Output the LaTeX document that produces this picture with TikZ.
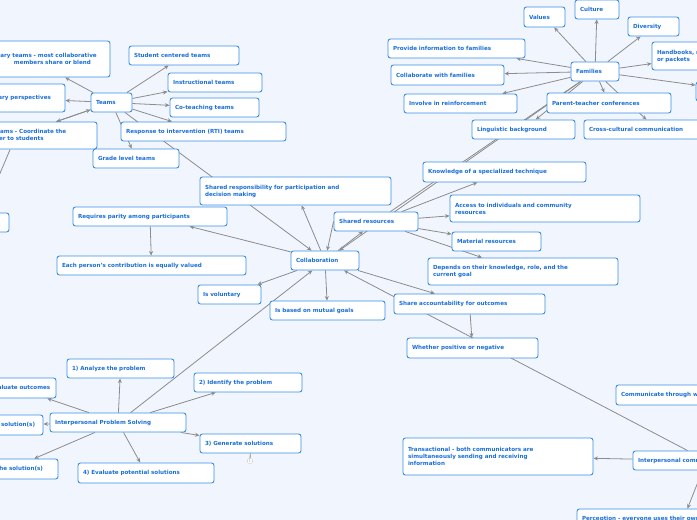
\documentclass[tikz,border=0pt]{standalone}
\usepackage{fontspec}
\setmainfont{DejaVu Sans}
\usetikzlibrary{arrows.meta}
\pgfdeclarelayer{bg}
\pgfsetlayers{bg,main}
\definecolor{bord}{HTML}{3A8EE6}
\definecolor{txt}{HTML}{1A6FD8}
\definecolor{pagebg}{HTML}{F1F5FD}
\definecolor{edge}{HTML}{8C8C8C}
\tikzset{
 box/.style={draw=bord,line width=0.9pt,fill=white,rounded corners=2.5pt,text=txt,
   font=\fontsize{5.6}{7}\selectfont\bfseries,align=left,inner xsep=5pt,inner ysep=1pt},
 arr/.style={draw=edge,line width=0.8pt,-{Stealth[length=4.5pt,width=4pt]}},
 ln/.style={draw=edge,line width=0.8pt},
}
\newcommand\bx[6]{\node[box,text width={(#4-#2-10)*1pt},minimum height={(#5-#3)*1pt}] (#1) at ({(#2+#4)/2},{(#3+#5)/2}) {#6};}
\begin{document}
\begin{tikzpicture}[x=1pt,y=-1pt]
\useasboundingbox (0,0) rectangle (697,520);
\clip (0,0) rectangle (697,520);
% Teams cluster
\bx{teams}{91}{93}{132}{112}{Teams}
\bx{tb1}{-48}{41}{110}{77}{Transdisciplinary teams - most collaborative\\ \hspace*{57pt}members share or blend}
\bx{tb2}{-49}{84}{65}{112}{Multidisciplinary perspectives}
\bx{tb3}{-65}{122}{97}{149}{Interdisciplinary teams - Coordinate the\\services they deliver to students}
\bx{tb4}{-60}{213}{9}{232}{Teams}
\bx{stud}{129}{46}{239}{65}{Student centered teams}
\bx{instr}{168}{73}{262}{92}{Instructional teams}
\bx{cot}{170}{98}{259}{117}{Co-teaching teams}
\bx{rti}{121}{122}{286}{141}{Response to intervention (RTI) teams}
\bx{grade}{93}{149}{179}{168}{Grade level teams}
% Collaboration
\bx{shresp}{200}{177}{391}{205}{Shared responsibility for participation and\\decision making}
\bx{parity}{73}{207}{227}{226}{Requires parity among participants}
\bx{each}{57}{256}{246}{275}{Each person's contribution is equally valued}
\bx{collab}{291}{251}{359}{270}{Collaboration}
\bx{vol}{198}{285}{261}{304}{Is voluntary}
\bx{mutual}{270}{301}{385}{320}{Is based on mutual goals}
\bx{shres}{334}{212}{418}{231}{Shared resources}
\bx{know}{423}{162}{586}{182}{Knowledge of a specialized technique}
\bx{access}{450}{195}{640}{222}{Access to individuals and community\\resources}
\bx{mat}{452}{232}{541}{251}{Material resources}
\bx{dep}{428}{258}{618}{285}{Depends on their knowledge, role, and the\\current goal}
\bx{acct}{394}{294}{545}{314}{Share accountability for outcomes}
\bx{whether}{407}{338}{538}{358}{Whether positive or negative}
% Families
\bx{fam}{571}{62}{619}{81}{Families}
\bx{values}{524}{7}{565}{27}{Values}
\bx{culture}{575}{0}{619}{19}{Culture}
\bx{div}{628}{17}{679}{36}{Diversity}
\bx{hand}{652}{42}{760}{70}{Handbooks, newsletters\\or packets}
\bx{fright}{696}{82}{790}{101}{Home visits}
\bx{prov}{388}{39}{525}{58}{Provide information to families}
\bx{colf}{391}{65}{504}{85}{Collaborate with families}
\bx{inv}{404}{94}{517}{113}{Involve in reinforcement}
\bx{ptc}{547}{93}{671}{113}{Parent-teacher conferences}
\bx{ling}{472}{120}{575}{139}{Linguistic background}
\bx{cross}{584}{120}{730}{139}{Cross-cultural communication}
% Interpersonal communication
\bx{commthro}{616}{385}{780}{405}{Communicate through words}
\bx{trans}{403}{438}{593}{475}{Transactional - both communicators are\\simultaneously sending and receiving\\information}
\bx{ipc}{633}{451}{780}{470}{Interpersonal communication}
\bx{perc}{577}{509}{790}{528}{Perception - everyone uses their own lens}
% Problem solving
\bx{ips}{50}{413}{186}{432}{Interpersonal Problem Solving}
\bx{s1}{67}{359}{174}{378}{1) Analyze the problem}
\bx{s2}{194}{373}{302}{392}{2) Identify the problem}
\bx{s3}{200}{434}{301}{453}{3) Generate solutions}
\bx{s4}{78}{463}{214}{483}{4) Evaluate potential solutions}
\bx{s7}{-23}{378}{56}{398}{7) Evaluate outcomes}
\bx{s6}{-48}{415}{43}{435}{6) Implement solution(s)}
\bx{s5}{-38}{459}{58}{479}{5) Select the solution(s)}
\node[circle,draw=gray!40,fill=white,inner sep=0.6pt,text=gray!60,font=\fontsize{4}{4}\selectfont] (c1) at (250,461) {1};
\begin{pgfonlayer}{bg}
\fill[pagebg] (0,0) rectangle (697,520);
\draw[ln] (s3) -- (c1);
\foreach \t in {tb1,tb2,tb3,stud,instr,cot,rti,grade} \draw[arr] (teams) -- (\t);
\draw[arr] (tb3) -- (teams);
\draw[ln] (tb3) -- (-10,197);
\draw[arr] (teams) -- (collab);
\foreach \t in {shresp,parity,vol,mutual,shres,acct} \draw[arr] (collab) -- (\t);
\draw[arr] (parity) -- (each);
\draw[arr] (shres.west) -- (collab);
\foreach \t in {know,access,mat,dep} \draw[arr] (shres) -- (\t);
\draw[ln] (fam) -- (shres);
\draw[arr] (fam) -- (collab);
\foreach \t in {values,culture,div,hand,fright,prov,colf,inv,ptc,ling,cross} \draw[arr] (fam) -- (\t);
\draw[arr] (acct) -- (whether);
\draw[arr] (ipc) -- (collab);
\foreach \t in {trans,perc,commthro} \draw[arr] (ipc) -- (\t);
\draw[arr] (ips) -- (collab);
\foreach \t in {s1,s2,s3,s4,s5,s6,s7} \draw[arr] (ips) -- (\t);
\end{pgfonlayer}
\end{tikzpicture}
\end{document}
